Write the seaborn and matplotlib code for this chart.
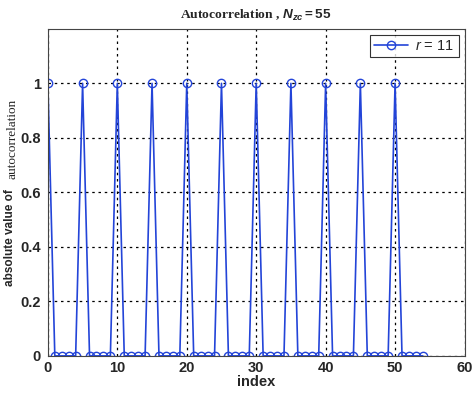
import matplotlib
matplotlib.use("Agg")
import matplotlib.pyplot as plt
import seaborn as sns
import numpy as np
import pandas as pd

index = list(range(55))
autocorr = [1 if i % 5 == 0 else 0 for i in range(55)]
x_ticks = [0, 10, 20, 30, 40, 50, 60]
y_ticks = [0, 0.2, 0.4, 0.6, 0.8, 1]
y_tick_labels = ["0", "0.2", "0.4", "0.6", "0.8", "1"]

df = pd.DataFrame({"index": index, "value": autocorr})

sns.set_style("white")
plt.rcParams["font.family"] = ["Liberation Sans", "DejaVu Sans"]
plt.rcParams["mathtext.fontset"] = "custom"
plt.rcParams["mathtext.rm"] = "Liberation Sans"
plt.rcParams["mathtext.it"] = "Liberation Sans:italic"
plt.rcParams["mathtext.bf"] = "Liberation Sans:bold"
plt.rcParams["mathtext.bfit"] = "Liberation Sans:italic:bold"

fig = plt.figure(figsize=(4.74, 3.95), dpi=100)
ax = fig.add_axes([0.101, 0.099, 0.879, 0.828])

sns.lineplot(data=df, x="index", y="value", ax=ax, color="#2344d8", linewidth=1.2,
             marker="o", markersize=6, markerfacecolor="none", markeredgecolor="#2344d8",
             markeredgewidth=1.0, label=r"$r$ = 11")

ax.set_xlim(0, 60)
ax.set_ylim(0, 1.2)
ax.set_xticks(x_ticks)
ax.set_yticks(y_ticks)
ax.set_yticklabels(y_tick_labels)
ax.tick_params(axis="x", labelsize=10.5, length=0, pad=4)
ax.tick_params(axis="y", labelsize=10.5, length=0, pad=5)
for lab in ax.get_xticklabels() + ax.get_yticklabels():
    lab.set_fontweight("bold")
ax.grid(True, linestyle=(0, (2, 3)), color="black", linewidth=0.9)
for s in ax.spines.values():
    s.set_color("#444444")
    s.set_linewidth(0.8)

ax.set_xlabel("index", fontsize=10.5, fontweight="bold", labelpad=0)
ax.set_ylabel("")
fig.text(0.021, 0.398, "absolute value of", rotation=90, ha="center", va="center",
         fontsize=8.5, fontweight="bold", family="Liberation Sans")
fig.text(0.027, 0.648, "autocorrelation", rotation=90, ha="center", va="center",
         fontsize=9.5, family="Liberation Serif")
ax.set_title(r"Autocorrelation , $\mathbfit{N}_{\mathbfit{zc}}\mathbf{= 55}$", fontsize=9.7,
             fontweight="bold", family="Liberation Serif", pad=7)

leg = ax.legend(loc="upper right", fontsize=10.5, frameon=True, fancybox=False,
                edgecolor="black", handlelength=2.3, handletextpad=0.5, borderpad=0.3,
                borderaxespad=0.4)
leg.get_frame().set_linewidth(0.8)

fig.savefig("out.png", dpi=100)
